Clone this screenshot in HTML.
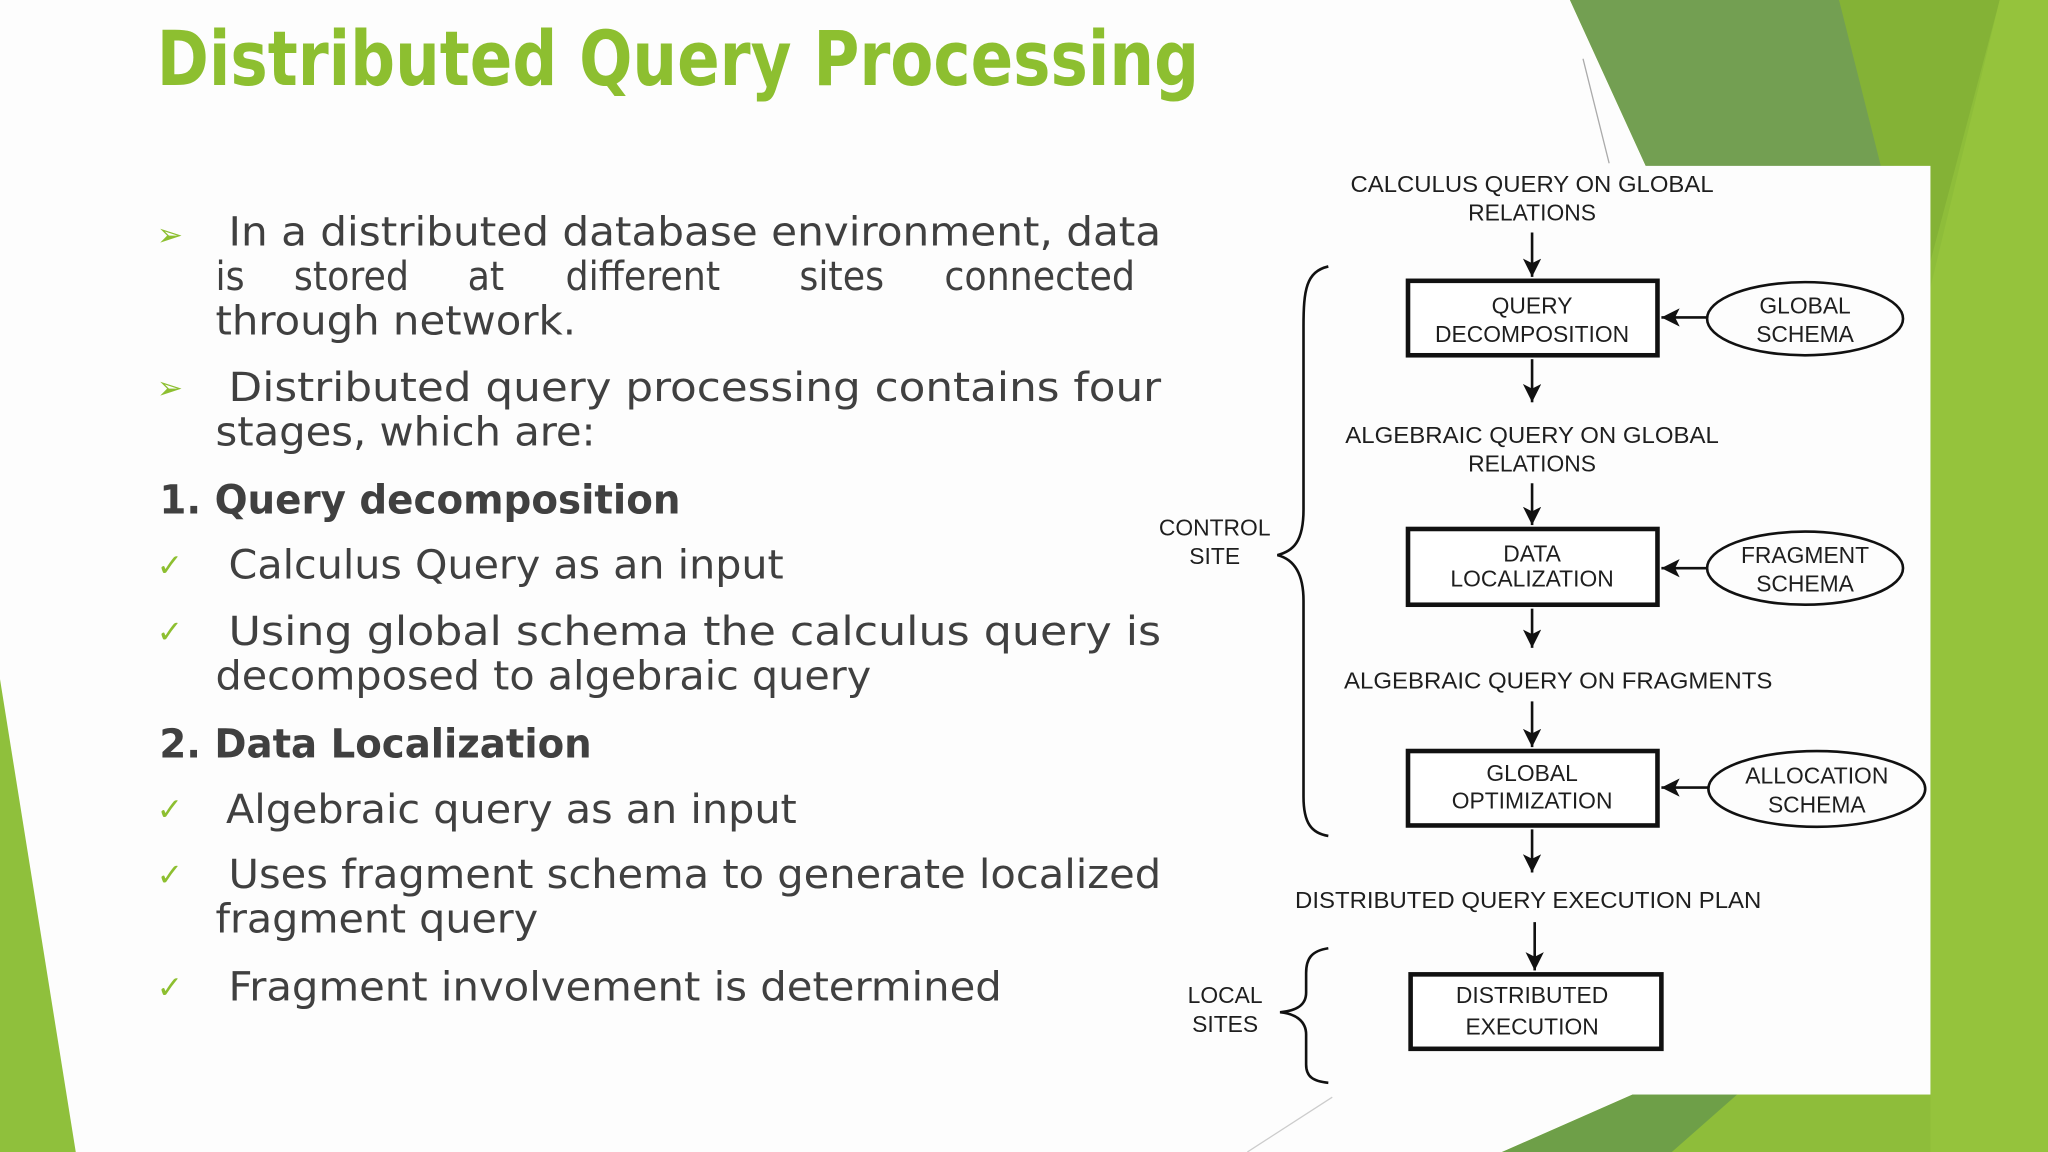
<!DOCTYPE html>
<html><head><meta charset="utf-8"><style>
html,body{margin:0;padding:0;background:#fff;}
svg{display:block;}
.b{font-family:"DejaVu Sans Condensed","DejaVu Sans","Liberation Sans",sans-serif;fill:#404040;font-size:31px;}
.d{font-family:"Liberation Sans",Arial,sans-serif;fill:#1e1e1e;font-size:17.5px;text-anchor:middle;}
</style></head><body>
<svg width="2048" height="1152" viewBox="0 0 1568 882" xmlns="http://www.w3.org/2000/svg">
<defs><marker id="ah" markerWidth="14" markerHeight="14" refX="12" refY="6" orient="auto" markerUnits="userSpaceOnUse" viewBox="0 0 12 12"><path d="M0,0 L12,6 L0,12 L3,6 z" fill="#111"/></marker></defs>
<rect width="1568" height="882" fill="#fdfdfd"/>
<polygon points="1202,0 1568,0 1568,882 1150,882 1250,838 1260,127" fill="#8ebd3a"/>
<polygon points="1202,0 1408,0 1450,127 1478,300 1478,838 1250,838 1260,127" fill="#739f52"/>
<polygon points="1408,0 1531,0 1478,200 1478,127 1440,127" fill="#84b236"/>
<polygon points="1531,0 1568,0 1568,882 1478,882 1478,220" fill="#95c33c"/>
<polygon points="1150,882 1250,838 1330,838 1280,882" fill="#6e9f48"/>
<line x1="1212" y1="45" x2="1232" y2="125" stroke="#aaa" stroke-width="1"/>
<line x1="955" y1="882" x2="1020" y2="840" stroke="#ccc" stroke-width="1"/>
<polygon points="0,520 58,882 0,882" fill="#8fc03c"/>
<rect x="968" y="127" width="510" height="711" fill="#fdfdfd"/>
<text x="120" y="65" font-family="'DejaVu Sans Condensed','DejaVu Sans','Liberation Sans',sans-serif" font-weight="bold" font-size="58" fill="#8dbf30" textLength="798" lengthAdjust="spacingAndGlyphs">Distributed Query Processing</text>
<g fill="#8dbf30" font-family="'DejaVu Sans',sans-serif" font-size="24">
<text x="120" y="188">➢</text><text x="120" y="305">➢</text>
<text x="120" y="441">✓</text><text x="120" y="492">✓</text><text x="120" y="628">✓</text><text x="120" y="678">✓</text><text x="120" y="764">✓</text>
</g>
<text class="b" x="175" y="188" textLength="714" lengthAdjust="spacingAndGlyphs">In a distributed database environment, data</text>
<text class="b" y="222"><tspan x="165">is</tspan><tspan x="225">stored</tspan><tspan x="358">at</tspan><tspan x="433">different</tspan><tspan x="612">sites</tspan><tspan x="723">connected</tspan></text>
<text class="b" x="165" y="256" textLength="276" lengthAdjust="spacingAndGlyphs">through network.</text>
<text class="b" x="175" y="307" textLength="714" lengthAdjust="spacingAndGlyphs">Distributed query processing contains four</text>
<text class="b" x="165" y="341" textLength="291" lengthAdjust="spacingAndGlyphs">stages, which are:</text>
<text class="b" x="122" y="393" font-weight="bold" textLength="399" lengthAdjust="spacingAndGlyphs">1. Query decomposition</text>
<text class="b" x="175" y="443" textLength="425" lengthAdjust="spacingAndGlyphs">Calculus Query as an input</text>
<text class="b" x="175" y="494" textLength="714" lengthAdjust="spacingAndGlyphs">Using global schema the calculus query is</text>
<text class="b" x="165" y="528" textLength="502" lengthAdjust="spacingAndGlyphs">decomposed to algebraic query</text>
<text class="b" x="122" y="580" font-weight="bold" textLength="331" lengthAdjust="spacingAndGlyphs">2. Data Localization</text>
<text class="b" x="173" y="630" textLength="437" lengthAdjust="spacingAndGlyphs">Algebraic query as an input</text>
<text class="b" x="175" y="680" textLength="714" lengthAdjust="spacingAndGlyphs">Uses fragment schema to generate localized</text>
<text class="b" x="165" y="714" textLength="247" lengthAdjust="spacingAndGlyphs">fragment query</text>
<text class="b" x="175" y="766" textLength="592" lengthAdjust="spacingAndGlyphs">Fragment involvement is determined</text>
<g stroke="#111" stroke-width="2" fill="none">
<line x1="1173" y1="178" x2="1173" y2="212" marker-end="url(#ah)"/>
<line x1="1173" y1="275" x2="1173" y2="308" marker-end="url(#ah)"/>
<line x1="1173" y1="370" x2="1173" y2="402" marker-end="url(#ah)"/>
<line x1="1173" y1="466" x2="1173" y2="496" marker-end="url(#ah)"/>
<line x1="1173" y1="537" x2="1173" y2="572" marker-end="url(#ah)"/>
<line x1="1173" y1="635" x2="1173" y2="668" marker-end="url(#ah)"/>
<line x1="1175" y1="706" x2="1175" y2="743" marker-end="url(#ah)"/>
<line x1="1307" y1="243" x2="1272" y2="243" marker-end="url(#ah)"/>
<line x1="1307" y1="435" x2="1272" y2="435" marker-end="url(#ah)"/>
<line x1="1308" y1="603" x2="1272" y2="603" marker-end="url(#ah)"/>
</g>
<g stroke="#111" stroke-width="3.5" fill="#fff">
<rect x="1078" y="215" width="191" height="57"/>
<rect x="1078" y="405" width="191" height="58"/>
<rect x="1078" y="575" width="191" height="57"/>
<rect x="1080" y="746" width="192" height="57"/>
</g>
<g stroke="#111" stroke-width="2" fill="none">
<ellipse cx="1382" cy="244" rx="75" ry="28"/>
<ellipse cx="1382" cy="435" rx="75" ry="28"/>
<ellipse cx="1391" cy="604" rx="83" ry="29"/>
<path d="M1017,204 C1000,208 998,222 998,250 L998,390 C998,415 990,422 978,425 C990,428 998,438 998,460 L998,610 C998,630 1004,638 1017,640"/>
<path d="M1017,726 C1004,728 1000,734 1000,745 L1000,760 C1000,770 992,774 980,775 C992,776 1000,782 1000,792 L1000,815 C1000,824 1005,828 1017,829"/>
</g>
<g font-size="18">
<text class="d" x="1173" y="147" textLength="278" lengthAdjust="spacingAndGlyphs">CALCULUS QUERY ON GLOBAL</text>
<text class="d" x="1173" y="169">RELATIONS</text>
<text class="d" x="1173" y="240">QUERY</text>
<text class="d" x="1173" y="262">DECOMPOSITION</text>
<text class="d" x="1382" y="240">GLOBAL</text>
<text class="d" x="1382" y="262">SCHEMA</text>
<text class="d" x="1173" y="339" textLength="286" lengthAdjust="spacingAndGlyphs">ALGEBRAIC QUERY ON GLOBAL</text>
<text class="d" x="1173" y="361">RELATIONS</text>
<text class="d" x="1173" y="430">DATA</text>
<text class="d" x="1173" y="449">LOCALIZATION</text>
<text class="d" x="1382" y="431">FRAGMENT</text>
<text class="d" x="1382" y="453">SCHEMA</text>
<text class="d" x="1193" y="527" textLength="328" lengthAdjust="spacingAndGlyphs">ALGEBRAIC QUERY ON FRAGMENTS</text>
<text class="d" x="1173" y="598">GLOBAL</text>
<text class="d" x="1173" y="619">OPTIMIZATION</text>
<text class="d" x="1391" y="600">ALLOCATION</text>
<text class="d" x="1391" y="622">SCHEMA</text>
<text class="d" x="1170" y="695" textLength="357" lengthAdjust="spacingAndGlyphs">DISTRIBUTED QUERY EXECUTION PLAN</text>
<text class="d" x="1173" y="768">DISTRIBUTED</text>
<text class="d" x="1173" y="792">EXECUTION</text>
<text class="d" x="930" y="410">CONTROL</text>
<text class="d" x="930" y="432">SITE</text>
<text class="d" x="938" y="768">LOCAL</text>
<text class="d" x="938" y="790">SITES</text>
</g>
</svg>
</body></html>
